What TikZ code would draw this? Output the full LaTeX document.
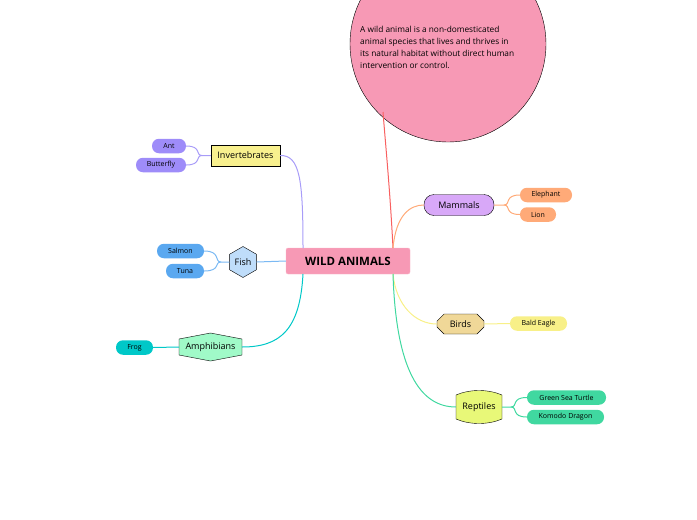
\documentclass[tikz,border=0pt]{standalone}
\usepackage{fontspec}
\setmainfont{Open Sans}
\usetikzlibrary{shapes.geometric,shapes.misc}
\definecolor{cpink}{HTML}{F799B5}
\definecolor{cinvF}{HTML}{F8F08E}
\definecolor{cinvL}{HTML}{A89CF8}
\definecolor{cinvC}{HTML}{9E8CF9}
\definecolor{cfishF}{HTML}{BFDDFA}
\definecolor{cfishC}{HTML}{5AA8F0}
\definecolor{camF}{HTML}{A0FAC8}
\definecolor{camC}{HTML}{00C8C8}
\definecolor{cmamF}{HTML}{D8A8F8}
\definecolor{cmamC}{HTML}{FFAA78}
\definecolor{cbirdF}{HTML}{F0D898}
\definecolor{cbirdC}{HTML}{F8F088}
\definecolor{crepF}{HTML}{E8F878}
\definecolor{crepC}{HTML}{40D8A0}
\definecolor{cred}{HTML}{F86060}
\begin{document}
\begin{tikzpicture}[x=1pt,y=-1pt,
 pill/.style={rectangle,rounded corners=7pt,minimum height=14.5pt,inner sep=0pt,font=\fontsize{7}{8}\selectfont},
 lab/.style={font=\fontsize{9}{11}\selectfont},
 link/.style={line width=1pt}]
\useasboundingbox (0,0) rectangle (697,520);
% circle
\node[circle,draw=black,fill=cpink,minimum size=196pt,inner sep=0pt] (note) at (448,44) {};
\node[anchor=north west,align=left,font=\fontsize{8.3}{12}\selectfont,inner sep=0pt] (notetext) at (360,26) {A wild animal is a non-domesticated\\animal species that lives and thrives in\\its natural habitat without direct human\\intervention or control.};
% center
\node[fill=cpink,draw=cpink!70!white,rounded corners=2pt,minimum width=124pt,minimum height=26pt,font=\bfseries\fontsize{11.5}{13}\selectfont] (c) at (348,261) {WILD ANIMALS};
% branches
\node[draw=black,fill=cinvF,minimum width=69pt,minimum height=21pt,inner sep=0pt,lab] (inv) at (245.5,155.5) {Invertebrates};
\node[pill,fill=cinvC,minimum width=34pt] (ant) at (169,146) {Ant};
\node[pill,fill=cinvC,minimum width=50pt] (but) at (161,165) {Butterfly};
\node[regular polygon,regular polygon sides=6,rotate=90,draw=black,fill=cfishF,minimum size=31pt,inner sep=0pt] (fish) at (243,262) {};
\node[lab] at (fish) {Fish};
\node[pill,fill=cfishC,minimum width=47pt] (sal) at (180.5,251) {Salmon};
\node[pill,fill=cfishC,minimum width=38pt] (tuna) at (185,271) {Tuna};
\draw[draw=black,fill=camF] (179,339) -- (210.5,333) -- (242,339) -- (242,355) -- (210.5,361) -- (179,355) -- cycle;
\node[lab] (amph) at (210.5,347) {Amphibians};
\coordinate (amphE) at (242,347); \coordinate (amphW) at (179,347);
\node[pill,fill=camC,minimum width=37pt] (frog) at (134.5,347.5) {Frog};
\node[rectangle,rounded corners=10pt,draw=black,fill=cmamF,minimum width=70pt,minimum height=21pt,inner sep=0pt,lab] (mam) at (459,205) {Mammals};
\node[pill,fill=cmamC,minimum width=52pt] (ele) at (546,195) {Elephant};
\node[pill,fill=cmamC,minimum width=36pt] (lion) at (538,214.5) {Lion};
\node[chamfered rectangle,chamfered rectangle xsep=10pt,draw=black,fill=cbirdF,minimum width=47pt,minimum height=20pt,inner sep=0pt,lab] (bird) at (460.5,324) {Birds};
\node[pill,fill=cbirdC,minimum width=57pt] (eagle) at (538.5,323.5) {Bald Eagle};
\draw[fill=crepF,draw=black] (456,395) .. controls (470,389) and (488,389) .. (502,395) -- (502,419) .. controls (488,425) and (470,425) .. (456,419) -- cycle;
\node[lab] (rep) at (479,407) {Reptiles};
\node[pill,fill=crepC,minimum width=79pt] (gst) at (566.5,397.5) {Green Sea Turtle};
\node[pill,fill=crepC,minimum width=77pt] (kom) at (565.5,417) {Komodo Dragon};
\coordinate (repL) at (456,407); \coordinate (repR) at (502,407);
% connectors
\draw[link,cred] (393,248) .. controls (390,190) and (386,150) .. (383,112);
\draw[link,cinvL] (303,248) .. controls (303,180) and (300,155) .. (inv.east);
\draw[link,cfishC!80!white] (c.west) -- (fish.south);
\draw[link,camC] (303,274) .. controls (300,330) and (280,347) .. (amphE);
\draw[link,cmamC] (393,248) .. controls (396,215) and (410,205) .. (mam.west);
\draw[link,cbirdC] (393,274) .. controls (396,305) and (415,324) .. (bird.west);
\draw[link,crepC] (393,274) .. controls (396,370) and (420,407) .. (repL);
% children
\draw[link,cinvL] (inv.west) -- (202,155.5) .. controls (195,155.5) and (202,146) .. (ant.east);
\draw[link,cinvL] (202,155.5) .. controls (195,155.5) and (202,165) .. (but.east);
\draw[link,cfishC!80!white] (fish.north) -- (221,262) .. controls (214,262) and (221,251) .. (sal.east);
\draw[link,cfishC!80!white] (221,262) .. controls (214,262) and (221,271) .. (tuna.east);
\draw[link,camC] (amphW) -- (frog.east);
\draw[link,cmamC] (mam.east) -- (504,205) .. controls (511,205) and (504,195) .. (ele.west);
\draw[link,cmamC] (504,205) .. controls (511,205) and (504,214.5) .. (lion.west);
\draw[link,cbirdC] (bird.east) -- (eagle.west);
\draw[link,crepC] (repR) -- (511,407) .. controls (518,407) and (511,397.5) .. (gst.west);
\draw[link,crepC] (511,407) .. controls (518,407) and (511,417) .. (kom.west);
\end{tikzpicture}
\end{document}
